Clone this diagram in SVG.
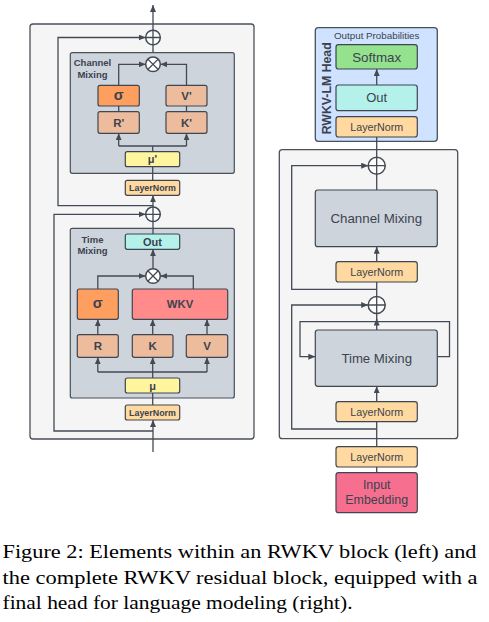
<svg xmlns="http://www.w3.org/2000/svg" width="489" height="622" viewBox="0 0 489 622">
<defs>
<marker id="ah" markerUnits="userSpaceOnUse" markerWidth="7" markerHeight="6" refX="7" refY="3" orient="auto">
<path d="M0,0 L7,3 L0,6 z" fill="#434a55"/>
</marker>
<style>
.panel{fill:#f5f5f5;stroke:#4a5058;stroke-width:1.3}
.grp{fill:#ced4dc;stroke:#4a5058;stroke-width:1.2}
.box{stroke:#3f4650;stroke-width:1.2}
.ln{fill:none;stroke:#434a55;stroke-width:1.3}
.arr{fill:none;stroke:#434a55;stroke-width:1.3;marker-end:url(#ah)}
.op{fill:#ffffff;stroke:#434a55;stroke-width:1.5}
.t{font-family:"Liberation Sans",Arial,sans-serif;fill:#3c4350;text-anchor:middle}
.b{font-weight:bold}
.cap{font-family:"Liberation Serif","Times New Roman",serif;font-size:18.3px;fill:#000}
.sig{fill:#ff9f5f}
.pe{fill:#edbc9c}
.mu{fill:#fff59f}
.lnorm{fill:#ffd99f}
.cy{fill:#b4f1ea}
</style>
</defs>

<!-- Left panel -->
<g id="left-panel">
<rect class="panel" x="30" y="24" width="224" height="415" rx="3"/>
</g>

<g id="connectors-left">
<path class="arr" d="M153,30 V5"/>
<path class="arr" d="M153,205.7 H58 V37.5 H145.7"/>
<path class="ln" d="M153,57 V44.8"/>
<path class="arr" d="M153,207 V195.3"/>
<path class="arr" d="M153,431 H54 V214.3 H145.7"/>
<path class="arr" d="M153,452 V420"/>
</g>

<g id="channel-mixing-group">
<rect class="grp" x="70.3" y="52.7" width="164" height="120.6" rx="2"/>
<text class="t b" x="92.5" y="66" font-size="9.5">Channel</text>
<text class="t b" x="92.5" y="77.5" font-size="9.5">Mixing</text>
</g>

<g id="connectors-cm">
<path class="arr" d="M118.7,85.3 V64.3 H145.7"/>
<path class="arr" d="M186.5,85.3 V64.3 H160.3"/>
<path class="ln" d="M118.7,106 V111.7 M186.5,106 V111.7"/>
<path class="ln" d="M152.7,151.7 V146 M118.7,146 H186.5"/>
<path class="arr" d="M118.7,146 V133.3"/>
<path class="arr" d="M186.5,146 V133.3"/>
<path class="ln" d="M152.7,166.7 V180.3"/>
</g>

<g id="plus1"><circle class="op" cx="153" cy="37.5" r="7.3"/><path class="ln" d="M145.7,37.5 H160.3 M153,30.2 V44.8"/></g>
<g id="mul1"><circle class="op" cx="153" cy="64.3" r="7.3"/><path class="ln" d="M147.8,59.1 L158.2,69.5 M158.2,59.1 L147.8,69.5"/></g>

<g id="sigma-cm"><rect class="box sig" x="98" y="85.3" width="41.3" height="20.7" rx="2"/><text class="t b" x="118.7" y="100.4" font-size="14.5">σ</text></g>
<g id="vprime"><rect class="box pe" x="166" y="85.3" width="41" height="20.7" rx="2"/><text class="t b" x="186.5" y="99.8" font-size="11.5">V'</text></g>
<g id="rprime"><rect class="box pe" x="98" y="111.7" width="41.3" height="21.6" rx="2"/><text class="t b" x="118.7" y="126.6" font-size="11.5">R'</text></g>
<g id="kprime"><rect class="box pe" x="166" y="111.7" width="41" height="21.6" rx="2"/><text class="t b" x="186.5" y="126.6" font-size="11.5">K'</text></g>
<g id="muprime"><rect class="box mu" x="125.3" y="151.7" width="54.4" height="15" rx="2"/><text class="t b" x="152.5" y="163.2" font-size="11">μ'</text></g>
<g id="ln-cm"><rect class="box lnorm" x="125.3" y="180.3" width="54.4" height="15" rx="2"/><text class="t b" x="152.5" y="191" font-size="8.9">LayerNorm</text></g>

<g id="plus2"><circle class="op" cx="153" cy="214.3" r="7.3"/><path class="ln" d="M145.7,214.3 H160.3 M153,207 V221.6"/></g>

<g id="time-mixing-group">
<rect class="grp" x="70.3" y="228.3" width="164" height="169.7" rx="2"/>
<text class="t b" x="92.5" y="242.6" font-size="9.5">Time</text>
<text class="t b" x="92.5" y="254" font-size="9.5">Mixing</text>
</g>

<g id="connectors-tm">
<path class="ln" d="M153,234 V221.6"/>
<path class="arr" d="M153,268.7 V249.3"/>
<path class="arr" d="M97.8,289 V276 H145.7"/>
<path class="arr" d="M193.3,289 V276 H160.3"/>
<path class="arr" d="M97.8,334.7 V319.3"/>
<path class="arr" d="M152.7,334.7 V319.3"/>
<path class="arr" d="M207,334.7 V319.3"/>
<path class="ln" d="M97.8,372 H207 M152.7,378 V372"/>
<path class="arr" d="M97.8,372 V357.3"/>
<path class="arr" d="M152.7,372 V357.3"/>
<path class="arr" d="M207,372 V357.3"/>
<path class="ln" d="M152.7,393 V405"/>
</g>

<g id="out-tm"><rect class="box cy" x="125.3" y="234" width="54.4" height="15.3" rx="2"/><text class="t b" x="152.5" y="245.6" font-size="11">Out</text></g>
<g id="mul2"><circle class="op" cx="153" cy="276" r="7.3"/><path class="ln" d="M147.8,270.8 L158.2,281.2 M158.2,270.8 L147.8,281.2"/></g>
<g id="sigma-tm"><rect class="box sig" x="77.3" y="289" width="41" height="30.3" rx="2"/><text class="t b" x="97.8" y="307.8" font-size="14.5">σ</text></g>
<g id="wkv"><rect class="box" fill="#ff8b8b" x="132.3" y="289" width="95.4" height="30.3" rx="2"/><text class="t b" x="180" y="308.2" font-size="11.3">WKV</text></g>
<g id="r"><rect class="box pe" x="77.3" y="334.7" width="41" height="22.6" rx="2"/><text class="t b" x="97.8" y="350.1" font-size="11.5">R</text></g>
<g id="k"><rect class="box pe" x="132.3" y="334.7" width="40.7" height="22.6" rx="2"/><text class="t b" x="152.7" y="350.1" font-size="11.5">K</text></g>
<g id="v"><rect class="box pe" x="186.3" y="334.7" width="41.4" height="22.6" rx="2"/><text class="t b" x="207" y="350.1" font-size="11.5">V</text></g>
<g id="mu"><rect class="box mu" x="125.3" y="378" width="54.4" height="15" rx="2"/><text class="t b" x="152.5" y="389.5" font-size="11">μ</text></g>
<g id="ln-tm"><rect class="box lnorm" x="125.3" y="405" width="54.4" height="15" rx="2"/><text class="t b" x="152.5" y="415.7" font-size="8.9">LayerNorm</text></g>

<!-- Right panel -->
<g id="head-group">
<rect fill="#cfe2ff" stroke="#4a5058" stroke-width="1.3" x="315.3" y="27.7" width="122" height="113.6" rx="3"/>
<text class="t" x="376.7" y="38.8" font-size="9.8">Output Probabilities</text>
<text class="t b" font-size="12.3" transform="translate(331,88.3) rotate(-90)">RWKV-LM Head</text>
</g>
<g id="right-panel"><rect class="panel" x="279.3" y="149.7" width="178.4" height="289" rx="3"/></g>

<g id="connectors-right">
<path class="arr" d="M376.7,85 V69"/>
<path class="ln" d="M376.7,137 V157.2"/>
<path class="arr" d="M376.7,289.3 H291.7 V165.7 H368.2"/>
<path class="ln" d="M376.7,190 V174.2"/>
<path class="arr" d="M376.7,261.7 V246.7"/>
<path class="ln" d="M376.7,282 V296.5"/>
<path class="arr" d="M376.7,429 H291.7 V305 H368.2"/>
<path class="arr" d="M437.3,356.7 H449.5 V321.7 H300 V356.7 H315.3"/>
<path class="arr" d="M376.7,330 V318.5"/>
<path class="ln" d="M376.7,320 V313.5"/>
<path class="arr" d="M376.7,401.7 V386.3"/>
<path class="ln" d="M376.7,421.7 V446.7"/>
<path class="ln" d="M376.7,467 V472.7"/>
</g>

<g id="softmax"><rect class="box" fill="#94e18e" x="336" y="44.7" width="81.3" height="24.3" rx="2.5"/><text class="t" x="376.7" y="61.5" font-size="13.4">Softmax</text></g>
<g id="out-head"><rect class="box cy" x="336" y="85" width="81.3" height="25.7" rx="2.5"/><text class="t" x="376.7" y="102.4" font-size="13">Out</text></g>
<g id="ln-head"><rect class="box lnorm" x="336" y="116.7" width="81.3" height="20.3" rx="2.5"/><text class="t" x="376.7" y="130.6" font-size="10.7">LayerNorm</text></g>
<g id="plus-r1"><circle class="op" cx="376.7" cy="165.7" r="8.5"/><path class="ln" d="M368.2,165.7 H385.2 M376.7,157.2 V174.2"/></g>
<g id="channel-mixing"><rect class="box" fill="#ced4dc" x="315.3" y="190" width="122" height="56.7" rx="2.5"/><text class="t" x="376.3" y="222.8" font-size="13.3">Channel Mixing</text></g>
<g id="ln-r1"><rect class="box lnorm" x="336" y="261.7" width="81.3" height="20.3" rx="2.5"/><text class="t" x="376.7" y="275.6" font-size="10.7">LayerNorm</text></g>
<g id="plus-r2"><circle class="op" cx="376.7" cy="305" r="8.5"/><path class="ln" d="M368.2,305 H385.2 M376.7,296.5 V313.5"/></g>
<g id="time-mixing"><rect class="box" fill="#ced4dc" x="315.3" y="330" width="122" height="56.3" rx="2.5"/><text class="t" x="376.7" y="362.8" font-size="13.2">Time Mixing</text></g>
<g id="ln-r2"><rect class="box lnorm" x="336" y="401.7" width="81.3" height="20" rx="2.5"/><text class="t" x="376.7" y="415.5" font-size="10.7">LayerNorm</text></g>
<g id="ln-r3"><rect class="box lnorm" x="336" y="446.7" width="81.3" height="20.3" rx="2.5"/><text class="t" x="376.7" y="460.6" font-size="10.7">LayerNorm</text></g>
<g id="input-embedding"><rect class="box" fill="#f76f8f" x="336" y="472.7" width="81.3" height="40" rx="2.5"/><text class="t" x="376.7" y="489.3" font-size="12.4">Input</text><text class="t" x="376.7" y="503.6" font-size="12.4">Embedding</text></g>

<g id="caption">
<text class="cap" x="2.5" y="558" textLength="474" lengthAdjust="spacingAndGlyphs">Figure 2: Elements within an RWKV block (left) and</text>
<text class="cap" x="2.5" y="584" textLength="475" lengthAdjust="spacingAndGlyphs">the complete RWKV residual block, equipped with a</text>
<text class="cap" x="2.5" y="609" textLength="350" lengthAdjust="spacingAndGlyphs">final head for language modeling (right).</text>
</g>
</svg>
